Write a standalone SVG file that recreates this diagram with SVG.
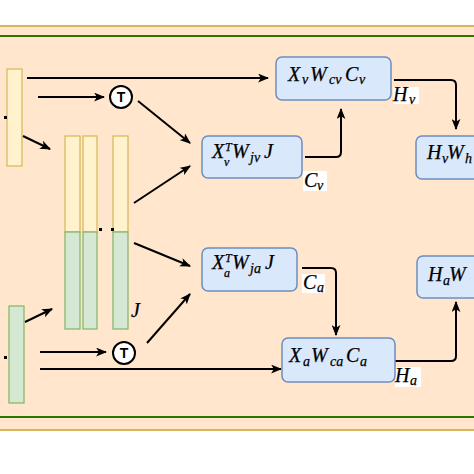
<svg xmlns="http://www.w3.org/2000/svg" width="474" height="474" viewBox="0 0 474 474">
<style>
.box{fill:#dae8fc;stroke:#6c8ebf;stroke-width:1.5}
.yb{fill:#fff2cc;stroke:#d6b656;stroke-width:1.2}
.gb{fill:#d5e8d4;stroke:#82b366;stroke-width:1.2}
.m{font-family:"Liberation Serif","DejaVu Serif",serif;font-style:italic;font-size:20px;fill:#000;stroke:#000;stroke-width:0.25}
.s{font-size:14px}
.ss{font-size:12px}
.ln{fill:none;stroke:#000;stroke-width:2;stroke-linejoin:round}
.lbl{fill:#fff}
.tc{fill:#fff;stroke:#000;stroke-width:2}
.tt{font-family:"Liberation Sans","DejaVu Sans",sans-serif;font-weight:bold;font-size:14px;text-anchor:middle;fill:#000}
</style>
<defs>
<marker id="a" viewBox="0 0 10 8" markerWidth="11" markerHeight="9" markerUnits="userSpaceOnUse" refX="9" refY="4" orient="auto">
<path d="M0,0 L10,4 L0,8 L2.5,4 z" fill="#000"/>
</marker>
</defs>
<rect width="474" height="474" fill="#fff"/>
<rect id="outer" x="-5" y="26" width="490" height="404" fill="#ffe6cc" stroke="#d6b656" stroke-width="2"/>
<rect id="inner" x="-5" y="36" width="490" height="381" fill="#ffe6cc" stroke="#2d7600" stroke-width="2"/>

<g id="bar-v"><rect class="yb" x="7" y="69" width="15" height="97"/><rect x="4" y="116" width="3" height="3"/></g>
<g id="bar-a"><rect class="gb" x="9" y="306" width="15" height="97"/><rect x="4" y="356" width="3" height="3"/></g>
<g id="J">
<rect class="yb" x="65" y="136" width="15" height="96"/><rect class="gb" x="65" y="232" width="15" height="97"/>
<rect class="yb" x="83" y="136" width="14" height="96"/><rect class="gb" x="83" y="232" width="14" height="97"/>
<rect class="yb" x="113" y="136" width="15" height="96"/><rect class="gb" x="113" y="232" width="15" height="97"/>
<rect x="99" y="228" width="3" height="3"/><rect x="111" y="228" width="3" height="3"/>
<text class="m" x="131" y="317">J</text>
</g>
<g id="T1"><circle class="tc" cx="121" cy="97" r="11"/><text class="tt" x="121" y="102">T</text></g>
<g id="T2"><circle class="tc" cx="124" cy="353" r="11"/><text class="tt" x="124" y="358">T</text></g>

<g id="connectors">
<path class="ln" d="M27,78 H268" marker-end="url(#a)"/>
<path class="ln" d="M38,97 H104" marker-end="url(#a)"/>
<path class="ln" d="M138,101 L190,143" marker-end="url(#a)"/>
<path class="ln" d="M23,136 L50,149" marker-end="url(#a)"/>
<path class="ln" d="M134,203 L190,166" marker-end="url(#a)"/>
<path class="ln" d="M305,157 H336 Q341,157 341,152 V109" marker-end="url(#a)"/>
<path class="ln" d="M394,80 H451 Q456,80 456,85 V129" marker-end="url(#a)"/>
<path class="ln" d="M25,322 L52,309" marker-end="url(#a)"/>
<path class="ln" d="M134,243 L190,266" marker-end="url(#a)"/>
<path class="ln" d="M40,352 H106" marker-end="url(#a)"/>
<path class="ln" d="M147,343 L190,294" marker-end="url(#a)"/>
<path class="ln" d="M40,369 H281" marker-end="url(#a)"/>
<path class="ln" d="M302,268 H331 Q336,268 336,273 V335" marker-end="url(#a)"/>
<path class="ln" d="M395,361 H451 Q456,361 456,356 V302" marker-end="url(#a)"/>
<rect class="lbl" x="303" y="171" width="24" height="20"/>
<text class="m" y="187"><tspan x="304">C</tspan><tspan class="s" x="317" y="190">v</tspan></text>
<rect class="lbl" x="393" y="87" width="26" height="17"/>
<text class="m" y="101"><tspan x="393">H</tspan><tspan class="s" x="409" y="104">v</tspan></text>
<rect class="lbl" x="302" y="274" width="23" height="19"/>
<text class="m" y="289"><tspan x="303">C</tspan><tspan class="s" x="317" y="292">a</tspan></text>
<rect class="lbl" x="395" y="367" width="26" height="20"/>
<text class="m" y="382"><tspan x="395">H</tspan><tspan class="s" x="410" y="385">a</tspan></text>
</g>

<g id="XvWcvCv"><rect class="box" x="276" y="57" width="115" height="43" rx="6"/>
<text class="m" y="81"><tspan x="288">X</tspan><tspan class="s" x="302" y="84">v</tspan><tspan x="310" y="81">W</tspan><tspan class="s" x="329" y="84">cv</tspan><tspan x="345" y="81">C</tspan><tspan class="s" x="359" y="84">v</tspan></text></g>

<g id="XvTWjvJ"><rect class="box" x="202" y="136" width="100" height="42" rx="6"/>
<text class="m" y="158"><tspan x="212">X</tspan><tspan class="ss" x="225" y="151">T</tspan><tspan class="ss" x="224" y="166">v</tspan><tspan x="232" y="158">W</tspan><tspan class="s" x="250" y="162">jv</tspan><tspan x="264" y="158">J</tspan></text></g>

<g id="HvW"><rect class="box" x="416" y="136" width="70" height="43" rx="6"/>
<text class="m" y="159"><tspan x="427">H</tspan><tspan class="s" x="442" y="163">v</tspan><tspan x="447" y="159">W</tspan><tspan class="s" x="465" y="163">h</tspan></text></g>

<g id="XaTWjaJ"><rect class="box" x="202" y="248" width="95" height="43" rx="6"/>
<text class="m" y="269"><tspan x="212">X</tspan><tspan class="ss" x="225" y="262">T</tspan><tspan class="ss" x="224" y="277">a</tspan><tspan x="232" y="269">W</tspan><tspan class="s" x="250" y="273">ja</tspan><tspan x="265" y="269">J</tspan></text></g>

<g id="XaWcaCa"><rect class="box" x="282" y="338" width="113" height="44" rx="6"/>
<text class="m" y="362"><tspan x="289">X</tspan><tspan class="s" x="303" y="366">a</tspan><tspan x="311" y="362">W</tspan><tspan class="s" x="330" y="366">ca</tspan><tspan x="346" y="362">C</tspan><tspan class="s" x="360" y="366">a</tspan></text></g>

<g id="HaW"><rect class="box" x="417" y="256" width="70" height="42" rx="6"/>
<text class="m" y="281"><tspan x="428">H</tspan><tspan class="s" x="443" y="285">a</tspan><tspan x="449" y="281">W</tspan></text></g>
</svg>
